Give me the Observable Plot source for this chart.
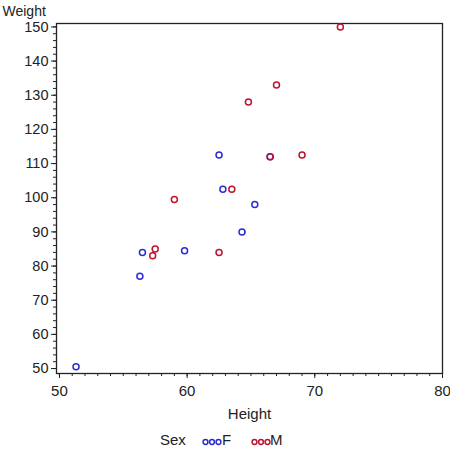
<!DOCTYPE html>
<html>
<head>
<meta charset="utf-8">
<script src="https://cdn.jsdelivr.net/npm/d3@7"></script>
<script src="https://cdn.jsdelivr.net/npm/@observablehq/plot@0.6"></script>
<style>
  body { margin: 0; background: #fff; font-family: "Liberation Sans", Arial, sans-serif; }
  #legend { position: relative; height: 25px; font-size: 15px; color: #222; }
  #legend span { position: absolute; top: 6px; }
  #legend svg { position: absolute; top: 12px; }
</style>
</head>
<body>
<div id="chart"></div>
<div id="legend"></div>
<script>
// sashelp.class - height vs weight
var names  = ["Alice","Barbara","Carol","Jane","Janet","Joyce","Judy","Louise","Mary",
              "Alfred","Henry","James","Jeffrey","John","Philip","Robert","Ronald","Thomas","William"]
var sex    = ["F","F","F","F","F","F","F","F","F",
              "M","M","M","M","M","M","M","M","M","M"]
var height = [56.5, 65.3, 62.8, 59.8, 62.5, 51.3, 64.3, 56.3, 66.5,
              69.0, 63.5, 57.3, 62.5, 59.0, 72.0, 64.8, 67.0, 57.5, 66.5]
var weight = [84.0, 98.0, 102.5, 84.5, 112.5, 50.5, 90.0, 77.0, 112.0,
              112.5, 102.5, 83.0, 84.0, 99.5, 150.0, 128.0, 133.0, 85.0, 112.0]

var xTicks = [50, 60, 70, 80]
var yTicks = [50, 60, 70, 80, 90, 100, 110, 120, 130, 140, 150]
var groups = ["F", "M"]
var groupColors = ["#2b2bd6", "#c0122e"]

var data = names.map((n, i) => ({name: n, sex: sex[i], height: height[i], weight: weight[i]}))

var chart = Plot.plot({
    width: 450,
    height: 425,
    marginTop: 23,
    marginRight: 8,
    marginBottom: 52,
    marginLeft: 56,
    style: {fontFamily: "Liberation Sans, Arial, sans-serif", fontSize: "15px", color: "#222"},
    x: {domain: [49.77, 80]},
    y: {domain: [48.55, 151]},
    color: {domain: groups, range: groupColors},
    marks: [
        Plot.frame({stroke: "#222", strokeWidth: 1.3}),
        Plot.axisX(d3.range(50, 81, 1), {tickSize: 3, text: null, label: null, stroke: "#222"}),
        Plot.axisX(xTicks, {tickSize: 5, tickPadding: 7, fontSize: 15, label: "Height",
            labelAnchor: "center", labelArrow: "none", labelOffset: 45, stroke: "#222"}),
        Plot.axisY(d3.range(50, 151, 2), {tickSize: 3, text: null, label: null, stroke: "#222"}),
        Plot.axisY(yTicks, {tickSize: 5, tickPadding: 3, fontSize: 14.5, label: null, stroke: "#222"}),
        Plot.text(["Weight"], {frameAnchor: "top-left", dx: -54, dy: -17.5, textAnchor: "start",
            fontSize: 14, fill: "#222"}),
        Plot.dot(data, {x: "height", y: "weight", stroke: "sex", r: 3, strokeWidth: 1.5, fill: "none"})
    ]
})
document.getElementById("chart").append(chart)

// legend
var legend = document.getElementById("legend")
var lx = {Sex: 160, F: [202, 222], M: [251, 270]}
var s = document.createElement("span")
s.textContent = "Sex"
s.style.left = lx.Sex + "px"
legend.append(s)
groups.forEach((g, i) => {
    var [mx, tx] = lx[g]
    var ns = "http://www.w3.org/2000/svg"
    var sv = document.createElementNS(ns, "svg")
    sv.setAttribute("width", 21); sv.setAttribute("height", 10)
    sv.style.left = mx + "px"
    ;[3.5, 10, 16.5].forEach(cx => {
        var c = document.createElementNS(ns, "circle")
        c.setAttribute("cx", cx); c.setAttribute("cy", 5); c.setAttribute("r", 2.4)
        c.setAttribute("fill", "none"); c.setAttribute("stroke", groupColors[i]); c.setAttribute("stroke-width", 1.5)
        sv.append(c)
    })
    legend.append(sv)
    var t = document.createElement("span")
    t.textContent = g
    t.style.left = tx + "px"
    legend.append(t)
})
</script>
</body>
</html>
